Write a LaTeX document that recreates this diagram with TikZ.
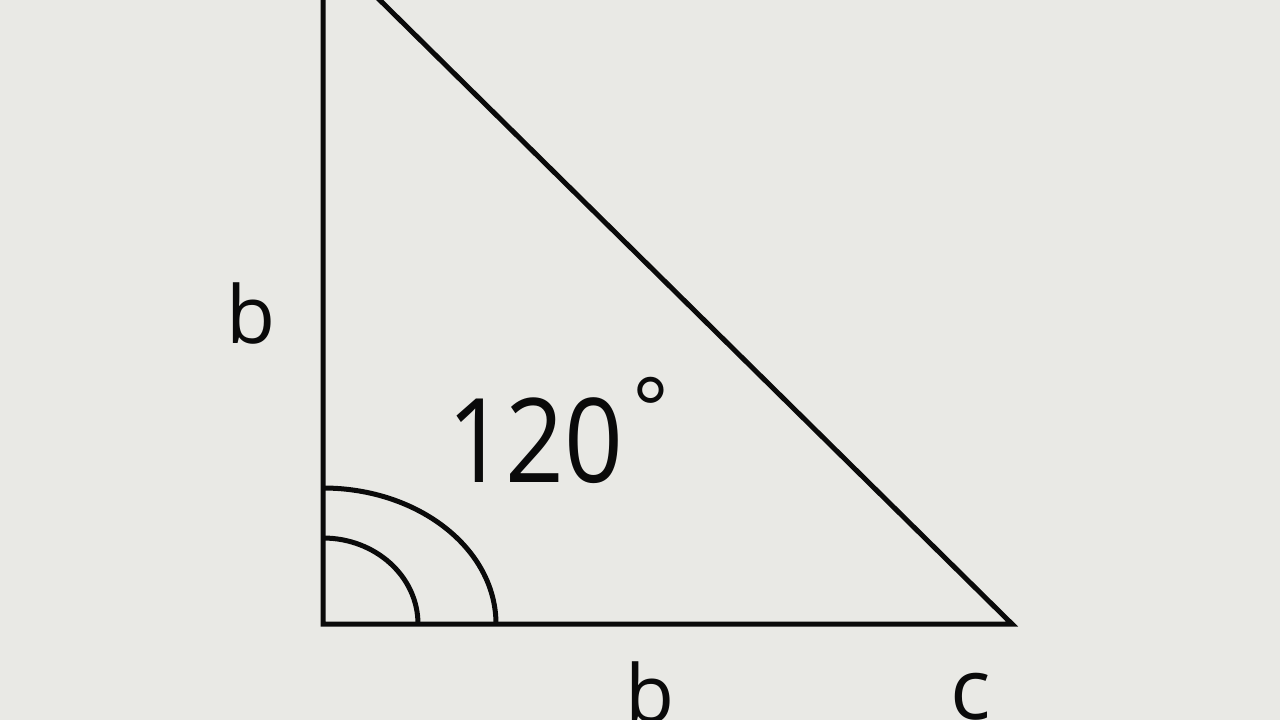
\documentclass[tikz,border=0pt]{standalone}
\usepackage{fontspec}
\setmainfont{Open Sans}
\definecolor{bgc}{RGB}{233,233,229}
\definecolor{ink}{RGB}{10,10,10}
\tikzset{
  edge/.style={draw=ink, line width=5pt, line join=miter},
  arcline/.style={draw=ink, line width=5pt},
  lbl/.style={inner sep=0pt, outer sep=0pt, text=ink, anchor=base},
}
\begin{document}
\begin{tikzpicture}[x=1pt,y=1pt]
\fill[bgc] (0,0) rectangle (1280,-720);
\useasboundingbox (0,0) rectangle (1280,-720);
\coordinate (A) at (323,56);
\coordinate (B) at (323,-624);
\coordinate (C) at (1012,-624);
\draw[edge] (A) -- (B) -- (C) -- cycle;
\coordinate (i0) at (418,-624);
\coordinate (o0) at (496,-624);
\draw[arcline] (i0) arc[start angle=0, end angle=90, x radius=95, y radius=86];
\draw[arcline] (o0) arc[start angle=0, end angle=90, x radius=173, y radius=136];
\node[lbl, font=\fontsize{80}{80}\selectfont] (la) at (257,4) {a};
\node[lbl, font=\fontsize{80}{80}\selectfont] (lb1) at (251,-343) {b};
\node[lbl, font=\fontsize{80}{80}\selectfont] (lb2) at (650,-722) {b};
\node[lbl, font=\fontsize{85}{85}\selectfont] (lc) at (971,-719) {c};
\node[lbl, anchor=base west, xscale=0.88, font=\fontsize{117}{117}\selectfont] (ang) at (447,-482) {120};
\node[lbl, font=\fontsize{86}{86}\selectfont, anchor=center] (deg) at (651,-408) {°};
\end{tikzpicture}
\end{document}
